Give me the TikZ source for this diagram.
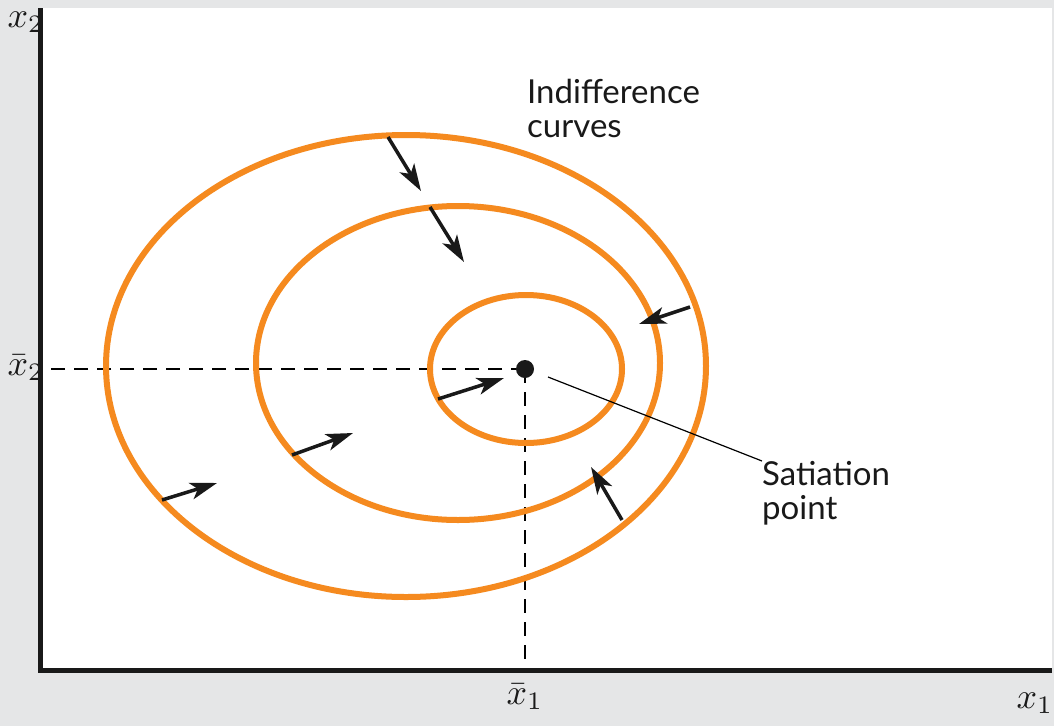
\documentclass[tikz,border=0pt]{standalone}
\usepackage{fontspec}
\usepackage{graphicx}
\setmainfont{Lato}
\usetikzlibrary{arrows.meta}
\usetikzlibrary{calc}
\definecolor{curveorange}{HTML}{F58A1F}
\definecolor{panelgray}{HTML}{E5E6E7}
\tikzset{>=latex}
\newcommand{\axlbl}[1]{\scalebox{3.6}{$#1$}}

\begin{document}
\begin{tikzpicture}[x=1pt,y=-1pt,
    curve/.style={draw=curveorange, line width=6pt},
    pullarrow/.style={-{Stealth[length=27pt,width=17pt,inset=7pt]}, line width=3.5pt, black!90},
    lbl/.style={font=\fontsize{33}{34}\selectfont, inner sep=0pt, text=black!90},
    mathlbl/.style={inner sep=0pt, text=black!90}]
    % Background and plotting area
    \fill[panelgray] (0,0) rectangle (1054,726);
    \useasboundingbox (0,0) rectangle (1054,726);
    \fill[white] (40,8) rectangle (1052,670);

    % Define coordinates for the satiation point and the axes
    \coordinate (S) at (525,369);
    \coordinate (O) at (40,670);
    \coordinate (Ytop) at (40,8);
    \coordinate (Xend) at (1052,670);

    % Dashed guides to the axes
    \draw[dashed, line width=1.3pt, dash pattern=on 14pt off 9pt] (S) -- (S -| O);
    \draw[dashed, line width=1.3pt, dash pattern=on 14pt off 9pt] (S) -- (S |- O);

    % Indifference curves
    \draw[curve] (406,366) ellipse [x radius=300, y radius=231];
    \draw[curve] (458,363) ellipse [x radius=202, y radius=157];
    \draw[curve] (526,369) ellipse [x radius=96, y radius=74];

    % Axes
    \draw[line width=5pt, black!90] (Ytop) -- (O) -- (Xend);

    % Arrows pointing towards the satiation point
    \coordinate (a1) at (388,137); \coordinate (b1) at (421,191);
    \coordinate (a2) at (430,207); \coordinate (b2) at (464,262);
    \coordinate (a3) at (690,307); \coordinate (b3) at (639,324);
    \coordinate (a4) at (438,399); \coordinate (b4) at (504,378);
    \coordinate (a5) at (292,455); \coordinate (b5) at (353,433);
    \coordinate (a6) at (162,500); \coordinate (b6) at (217,483);
    \coordinate (a7) at (622,520); \coordinate (b7) at (591,467);
    \foreach \i in {1,...,7}
        \draw[pullarrow] (a\i) -- (b\i);

    % Satiation point and its label
    \fill[black!90] (S) circle [radius=9];
    \node[lbl, align=left, anchor=north west] (satlbl) at (762,461) {Satiation\\point};
    \draw[line width=1.2pt] ($(S)+(23,8)$) -- (satlbl.north west);
    \node[lbl, align=left, anchor=north west] (iclbl) at (527,79) {Indifference\\curves};

    % Axis labels
    \node[mathlbl] (x2) at (26,22) {\axlbl{x_2}};
    \node[mathlbl] (x2bar) at (26,368) {\axlbl{\bar{x}_2}};
    \node[mathlbl] (x1bar) at (S |- 0,697) {\axlbl{\bar{x}_1}};
    \node[mathlbl] (x1) at (1035,703) {\axlbl{x_1}};
\end{tikzpicture}
\end{document}
